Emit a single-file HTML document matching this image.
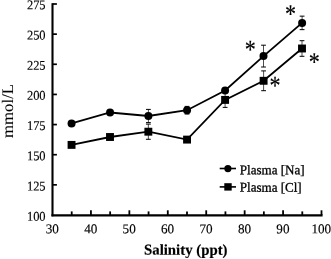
<!DOCTYPE html><html><head><meta charset="utf-8"><style>html,body{margin:0;padding:0;background:#fff;}svg{display:block;}text{font-family:"Liberation Serif","Times New Roman",serif;fill:#000;text-rendering:geometricPrecision;stroke:#000;stroke-width:0.15px;}</style></head><body>
<svg width="331" height="259" viewBox="0 0 331 259">
<path d="M52.5 3.2 V216.3" fill="none" stroke="#000" stroke-width="2.1"/>
<path d="M51.45 215.3 H322.6" fill="none" stroke="#000" stroke-width="2.3"/>
<line x1="52.5" y1="184.85" x2="56.9" y2="184.85" stroke="#000" stroke-width="1.7"/>
<line x1="52.5" y1="154.71" x2="56.9" y2="154.71" stroke="#000" stroke-width="1.7"/>
<line x1="52.5" y1="124.57" x2="56.9" y2="124.57" stroke="#000" stroke-width="1.7"/>
<line x1="52.5" y1="94.43" x2="56.9" y2="94.43" stroke="#000" stroke-width="1.7"/>
<line x1="52.5" y1="64.28" x2="56.9" y2="64.28" stroke="#000" stroke-width="1.7"/>
<line x1="52.5" y1="34.14" x2="56.9" y2="34.14" stroke="#000" stroke-width="1.7"/>
<line x1="52.5" y1="4.00" x2="56.9" y2="4.00" stroke="#000" stroke-width="1.7"/>
<text transform="translate(45.60,220.80) rotate(0.1) scale(0.93,1.0)" font-size="13.4" text-anchor="end">100</text>
<text transform="translate(45.60,190.57) rotate(0.1) scale(0.93,1.0)" font-size="13.4" text-anchor="end">125</text>
<text transform="translate(45.60,160.34) rotate(0.1) scale(0.93,1.0)" font-size="13.4" text-anchor="end">150</text>
<text transform="translate(45.60,130.11) rotate(0.1) scale(0.93,1.0)" font-size="13.4" text-anchor="end">175</text>
<text transform="translate(45.60,99.88) rotate(0.1) scale(0.93,1.0)" font-size="13.4" text-anchor="end">200</text>
<text transform="translate(45.60,69.66) rotate(0.1) scale(0.93,1.0)" font-size="13.4" text-anchor="end">225</text>
<text transform="translate(45.60,39.43) rotate(0.1) scale(0.93,1.0)" font-size="13.4" text-anchor="end">250</text>
<text transform="translate(45.60,9.20) rotate(0.1) scale(0.93,1.0)" font-size="13.4" text-anchor="end">275</text>
<line x1="71.71" y1="215.0" x2="71.71" y2="211.4" stroke="#000" stroke-width="1.8"/>
<line x1="90.93" y1="215.0" x2="90.93" y2="210.3" stroke="#000" stroke-width="1.8"/>
<line x1="110.14" y1="215.0" x2="110.14" y2="211.4" stroke="#000" stroke-width="1.8"/>
<line x1="129.36" y1="215.0" x2="129.36" y2="210.3" stroke="#000" stroke-width="1.8"/>
<line x1="148.57" y1="215.0" x2="148.57" y2="211.4" stroke="#000" stroke-width="1.8"/>
<line x1="167.79" y1="215.0" x2="167.79" y2="210.3" stroke="#000" stroke-width="1.8"/>
<line x1="187.00" y1="215.0" x2="187.00" y2="211.4" stroke="#000" stroke-width="1.8"/>
<line x1="206.22" y1="215.0" x2="206.22" y2="210.3" stroke="#000" stroke-width="1.8"/>
<line x1="225.43" y1="215.0" x2="225.43" y2="211.4" stroke="#000" stroke-width="1.8"/>
<line x1="244.65" y1="215.0" x2="244.65" y2="210.3" stroke="#000" stroke-width="1.8"/>
<line x1="263.86" y1="215.0" x2="263.86" y2="211.4" stroke="#000" stroke-width="1.8"/>
<line x1="283.07" y1="215.0" x2="283.07" y2="210.3" stroke="#000" stroke-width="1.8"/>
<line x1="302.29" y1="215.0" x2="302.29" y2="211.4" stroke="#000" stroke-width="1.8"/>
<line x1="321.50" y1="215.0" x2="321.50" y2="210.3" stroke="#000" stroke-width="1.8"/>
<text transform="translate(52.30,233.20) rotate(0.1) scale(0.98,1.0)" font-size="13.4" text-anchor="middle">30</text>
<text transform="translate(90.73,233.20) rotate(0.1) scale(0.98,1.0)" font-size="13.4" text-anchor="middle">40</text>
<text transform="translate(129.16,233.20) rotate(0.1) scale(0.98,1.0)" font-size="13.4" text-anchor="middle">50</text>
<text transform="translate(167.59,233.20) rotate(0.1) scale(0.98,1.0)" font-size="13.4" text-anchor="middle">60</text>
<text transform="translate(206.02,233.20) rotate(0.1) scale(0.98,1.0)" font-size="13.4" text-anchor="middle">70</text>
<text transform="translate(244.45,233.20) rotate(0.1) scale(0.98,1.0)" font-size="13.4" text-anchor="middle">80</text>
<text transform="translate(282.87,233.20) rotate(0.1) scale(0.98,1.0)" font-size="13.4" text-anchor="middle">90</text>
<text transform="translate(321.30,233.20) rotate(0.1) scale(0.98,1.0)" font-size="13.4" text-anchor="middle">100</text>
<text transform="translate(144.00,254.60) rotate(0.1) scale(0.987,1.0)" font-size="15" font-weight="bold">Salinity (ppt)</text>
<text transform="translate(12.60,138.00) rotate(-90) scale(1.0,0.96)" font-size="16.8" style="stroke-width:0.05px">mmol/L</text>
<line x1="148.4" y1="109.40" x2="148.4" y2="122.60" stroke="#000" stroke-width="0.7"/>
<line x1="146.00" y1="109.40" x2="150.80" y2="109.40" stroke="#000" stroke-width="1"/>
<line x1="146.00" y1="122.60" x2="150.80" y2="122.60" stroke="#000" stroke-width="1"/>
<line x1="187.05" y1="106.40" x2="187.05" y2="114.00" stroke="#000" stroke-width="0.7"/>
<line x1="184.65" y1="106.40" x2="189.45" y2="106.40" stroke="#000" stroke-width="1"/>
<line x1="184.65" y1="114.00" x2="189.45" y2="114.00" stroke="#000" stroke-width="1"/>
<line x1="263.5" y1="45.20" x2="263.5" y2="67.00" stroke="#000" stroke-width="0.7"/>
<line x1="261.10" y1="45.20" x2="265.90" y2="45.20" stroke="#000" stroke-width="1"/>
<line x1="261.10" y1="67.00" x2="265.90" y2="67.00" stroke="#000" stroke-width="1"/>
<line x1="302.1" y1="16.15" x2="302.1" y2="29.65" stroke="#000" stroke-width="0.7"/>
<line x1="299.70" y1="16.15" x2="304.50" y2="16.15" stroke="#000" stroke-width="1"/>
<line x1="299.70" y1="29.65" x2="304.50" y2="29.65" stroke="#000" stroke-width="1"/>
<line x1="148.35" y1="124.10" x2="148.35" y2="139.30" stroke="#000" stroke-width="0.7"/>
<line x1="145.95" y1="124.10" x2="150.75" y2="124.10" stroke="#000" stroke-width="1"/>
<line x1="145.95" y1="139.30" x2="150.75" y2="139.30" stroke="#000" stroke-width="1"/>
<line x1="225.1" y1="92.40" x2="225.1" y2="107.40" stroke="#000" stroke-width="0.7"/>
<line x1="222.70" y1="92.40" x2="227.50" y2="92.40" stroke="#000" stroke-width="1"/>
<line x1="222.70" y1="107.40" x2="227.50" y2="107.40" stroke="#000" stroke-width="1"/>
<line x1="263.6" y1="70.90" x2="263.6" y2="90.70" stroke="#000" stroke-width="0.7"/>
<line x1="261.20" y1="70.90" x2="266.00" y2="70.90" stroke="#000" stroke-width="1"/>
<line x1="261.20" y1="90.70" x2="266.00" y2="90.70" stroke="#000" stroke-width="1"/>
<line x1="302.0" y1="40.70" x2="302.0" y2="56.30" stroke="#000" stroke-width="0.7"/>
<line x1="299.60" y1="40.70" x2="304.40" y2="40.70" stroke="#000" stroke-width="1"/>
<line x1="299.60" y1="56.30" x2="304.40" y2="56.30" stroke="#000" stroke-width="1"/>
<polyline points="71.55,123.4 110.05,112.5 148.4,116.0 187.05,110.2 225.1,90.5 263.5,56.1 302.1,22.9" fill="none" stroke="#000" stroke-width="1.8"/>
<polyline points="71.55,144.9 110.0,137.0 148.35,131.7 187.05,139.6 225.1,99.9 263.6,80.8 302.0,48.5" fill="none" stroke="#000" stroke-width="1.8"/>
<circle cx="71.55" cy="123.4" r="4"/>
<circle cx="110.05" cy="112.5" r="4"/>
<circle cx="148.4" cy="116.0" r="4"/>
<circle cx="187.05" cy="110.2" r="4"/>
<circle cx="225.1" cy="90.5" r="4"/>
<circle cx="263.5" cy="56.1" r="4"/>
<circle cx="302.1" cy="22.9" r="4"/>
<rect x="67.60" y="140.95" width="7.9" height="7.9"/>
<rect x="106.05" y="133.05" width="7.9" height="7.9"/>
<rect x="144.40" y="127.75" width="7.9" height="7.9"/>
<rect x="183.10" y="135.65" width="7.9" height="7.9"/>
<rect x="221.15" y="95.95" width="7.9" height="7.9"/>
<rect x="259.65" y="76.85" width="7.9" height="7.9"/>
<rect x="298.05" y="44.55" width="7.9" height="7.9"/>
<text transform="translate(250.30,58.12) rotate(0.1) scale(1,1.2)" font-size="22" text-anchor="middle" stroke="#000" stroke-width="0.25">*</text>
<text transform="translate(290.55,22.52) rotate(0.1) scale(1,1.2)" font-size="22" text-anchor="middle" stroke="#000" stroke-width="0.25">*</text>
<text transform="translate(274.90,93.97) rotate(0.1) scale(1,1.2)" font-size="22" text-anchor="middle" stroke="#000" stroke-width="0.25">*</text>
<text transform="translate(314.30,70.52) rotate(0.1) scale(1,1.2)" font-size="22" text-anchor="middle" stroke="#000" stroke-width="0.25">*</text>
<line x1="219.7" y1="168.5" x2="236" y2="168.5" stroke="#000" stroke-width="1.6"/>
<circle cx="227.9" cy="168.6" r="3.6"/>
<line x1="219.7" y1="186.9" x2="236" y2="186.9" stroke="#000" stroke-width="1.6"/>
<rect x="224.3" y="183.2" width="7.4" height="7.4"/>
<text transform="translate(239.80,174.20) rotate(0.1) scale(0.98,1.0)" font-size="13.3" style="stroke-width:0.3px">Plasma [Na]</text>
<text transform="translate(239.80,191.60) rotate(0.1) scale(0.98,1.0)" font-size="13.3" style="stroke-width:0.3px">Plasma [Cl]</text>
</svg></body></html>
